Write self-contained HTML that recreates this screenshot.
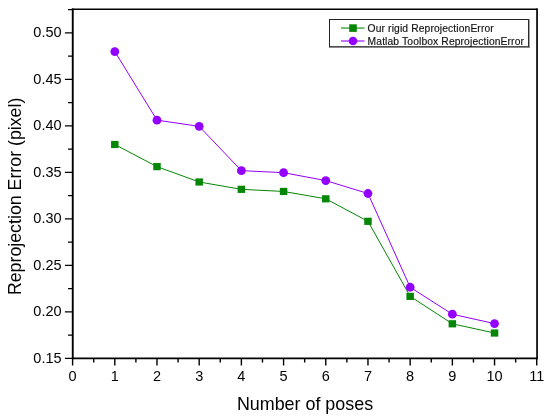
<!DOCTYPE html>
<html><head><meta charset="utf-8"><title>Reprojection Error</title>
<style>html,body{margin:0;padding:0;background:#fff;width:550px;height:420px;overflow:hidden}</style>
</head><body>
<svg width="550" height="420" viewBox="0 0 550 420" style="display:block">
<rect width="550" height="420" fill="#fff"/>
<path d="M64.90 358.40H72.60 M64.90 311.90H72.60 M64.90 265.40H72.60 M64.90 218.90H72.60 M64.90 172.40H72.60 M64.90 125.90H72.60 M64.90 79.40H72.60 M64.90 32.90H72.60 M68.00 335.15H72.60 M68.00 288.65H72.60 M68.00 242.15H72.60 M68.00 195.65H72.60 M68.00 149.15H72.60 M68.00 102.65H72.60 M68.00 56.15H72.60 M68.00 9.65H72.60 M72.60 358.40V365.60 M114.80 358.40V365.60 M156.99 358.40V365.60 M199.19 358.40V365.60 M241.38 358.40V365.60 M283.58 358.40V365.60 M325.77 358.40V365.60 M367.97 358.40V365.60 M410.16 358.40V365.60 M452.36 358.40V365.60 M494.55 358.40V365.60 M536.75 358.40V365.60 M93.70 358.40V362.50 M135.89 358.40V362.50 M178.09 358.40V362.50 M220.28 358.40V362.50 M262.48 358.40V362.50 M304.67 358.40V362.50 M346.87 358.40V362.50 M389.07 358.40V362.50 M431.26 358.40V362.50 M473.46 358.40V362.50 M515.65 358.40V362.50" stroke="#000" stroke-width="1.4" fill="none"/>
<path d="M71.70 9.3H537.60" stroke="#000" stroke-width="1.4"/>
<path d="M72.60 358.40H537.60" stroke="#000" stroke-width="1.7"/>
<path d="M72.75 8.6V359.25" stroke="#000" stroke-width="1.9"/>
<path d="M537.05 8.6V359.25" stroke="#000" stroke-width="1.7"/>
<g font-family="'Liberation Sans', Arial, sans-serif" font-size="14.5" fill="#000">
<text x="61.6" y="362.90" text-anchor="end">0.15</text>
<text x="61.6" y="316.40" text-anchor="end">0.20</text>
<text x="61.6" y="269.90" text-anchor="end">0.25</text>
<text x="61.6" y="223.40" text-anchor="end">0.30</text>
<text x="61.6" y="176.90" text-anchor="end">0.35</text>
<text x="61.6" y="130.40" text-anchor="end">0.40</text>
<text x="61.6" y="83.90" text-anchor="end">0.45</text>
<text x="61.6" y="37.40" text-anchor="end">0.50</text>
<text x="72.60" y="380.9" text-anchor="middle">0</text>
<text x="114.80" y="380.9" text-anchor="middle">1</text>
<text x="156.99" y="380.9" text-anchor="middle">2</text>
<text x="199.19" y="380.9" text-anchor="middle">3</text>
<text x="241.38" y="380.9" text-anchor="middle">4</text>
<text x="283.58" y="380.9" text-anchor="middle">5</text>
<text x="325.77" y="380.9" text-anchor="middle">6</text>
<text x="367.97" y="380.9" text-anchor="middle">7</text>
<text x="410.16" y="380.9" text-anchor="middle">8</text>
<text x="452.36" y="380.9" text-anchor="middle">9</text>
<text x="494.55" y="380.9" text-anchor="middle">10</text>
<text x="536.75" y="380.9" text-anchor="middle">11</text>
</g>
<text x="305" y="409.8" text-anchor="middle" font-family="'Liberation Sans', Arial, sans-serif" font-size="17.9">Number of poses</text>
<text transform="translate(20.5 196.36) rotate(-90)" text-anchor="middle" font-family="'Liberation Sans', Arial, sans-serif" font-size="17.77">Reprojection Error (pixel)</text>
<polyline points="114.80,144.50 156.99,166.63 199.19,181.98 241.38,189.33 283.58,191.46 325.77,198.81 367.97,221.32 410.16,296.37 452.36,323.80 494.55,333.01" fill="none" stroke="#068606" stroke-width="1.0"/>
<polyline points="114.80,51.59 156.99,120.13 199.19,126.36 241.38,170.63 283.58,172.68 325.77,180.58 367.97,193.51 410.16,287.25 452.36,314.22 494.55,323.62" fill="none" stroke="#9400ff" stroke-width="1.0"/>
<rect x="111.05" y="140.90" width="7.5" height="7.2" fill="#068606"/>
<rect x="153.24" y="163.03" width="7.5" height="7.2" fill="#068606"/>
<rect x="195.44" y="178.38" width="7.5" height="7.2" fill="#068606"/>
<rect x="237.63" y="185.73" width="7.5" height="7.2" fill="#068606"/>
<rect x="279.83" y="187.86" width="7.5" height="7.2" fill="#068606"/>
<rect x="322.02" y="195.21" width="7.5" height="7.2" fill="#068606"/>
<rect x="364.22" y="217.72" width="7.5" height="7.2" fill="#068606"/>
<rect x="406.41" y="292.77" width="7.5" height="7.2" fill="#068606"/>
<rect x="448.61" y="320.20" width="7.5" height="7.2" fill="#068606"/>
<rect x="490.80" y="329.41" width="7.5" height="7.2" fill="#068606"/>
<circle cx="114.80" cy="51.59" r="4.4" fill="#9400ff"/>
<circle cx="156.99" cy="120.13" r="4.4" fill="#9400ff"/>
<circle cx="199.19" cy="126.36" r="4.4" fill="#9400ff"/>
<circle cx="241.38" cy="170.63" r="4.4" fill="#9400ff"/>
<circle cx="283.58" cy="172.68" r="4.4" fill="#9400ff"/>
<circle cx="325.77" cy="180.58" r="4.4" fill="#9400ff"/>
<circle cx="367.97" cy="193.51" r="4.4" fill="#9400ff"/>
<circle cx="410.16" cy="287.25" r="4.4" fill="#9400ff"/>
<circle cx="452.36" cy="314.22" r="4.4" fill="#9400ff"/>
<circle cx="494.55" cy="323.62" r="4.4" fill="#9400ff"/>
<rect x="329.5" y="19.5" width="199" height="27.2" fill="#fff" stroke="#222" stroke-width="1"/>
<path d="M529.35 19.2V47.9M329 47.5H529.75" stroke="#777" stroke-width="0.8" fill="none"/>
<path d="M341 28.05H364.5" stroke="#068606" stroke-width="1.1"/>
<rect x="349.2" y="24.3" width="7.6" height="7.6" fill="#068606"/>
<path d="M341 41H364.5" stroke="#9400ff" stroke-width="1.1"/>
<circle cx="353" cy="41" r="4.3" fill="#9400ff"/>
<g font-family="'Liberation Sans', Arial, sans-serif" font-size="10.3" letter-spacing="0.12" fill="#111" stroke="#111" stroke-width="0.15">
<text x="367.6" y="32.4">Our rigid ReprojectionError</text>
<text x="367.6" y="44.7">Matlab Toolbox ReprojectionError</text>
</g>
</svg>
</body></html>
